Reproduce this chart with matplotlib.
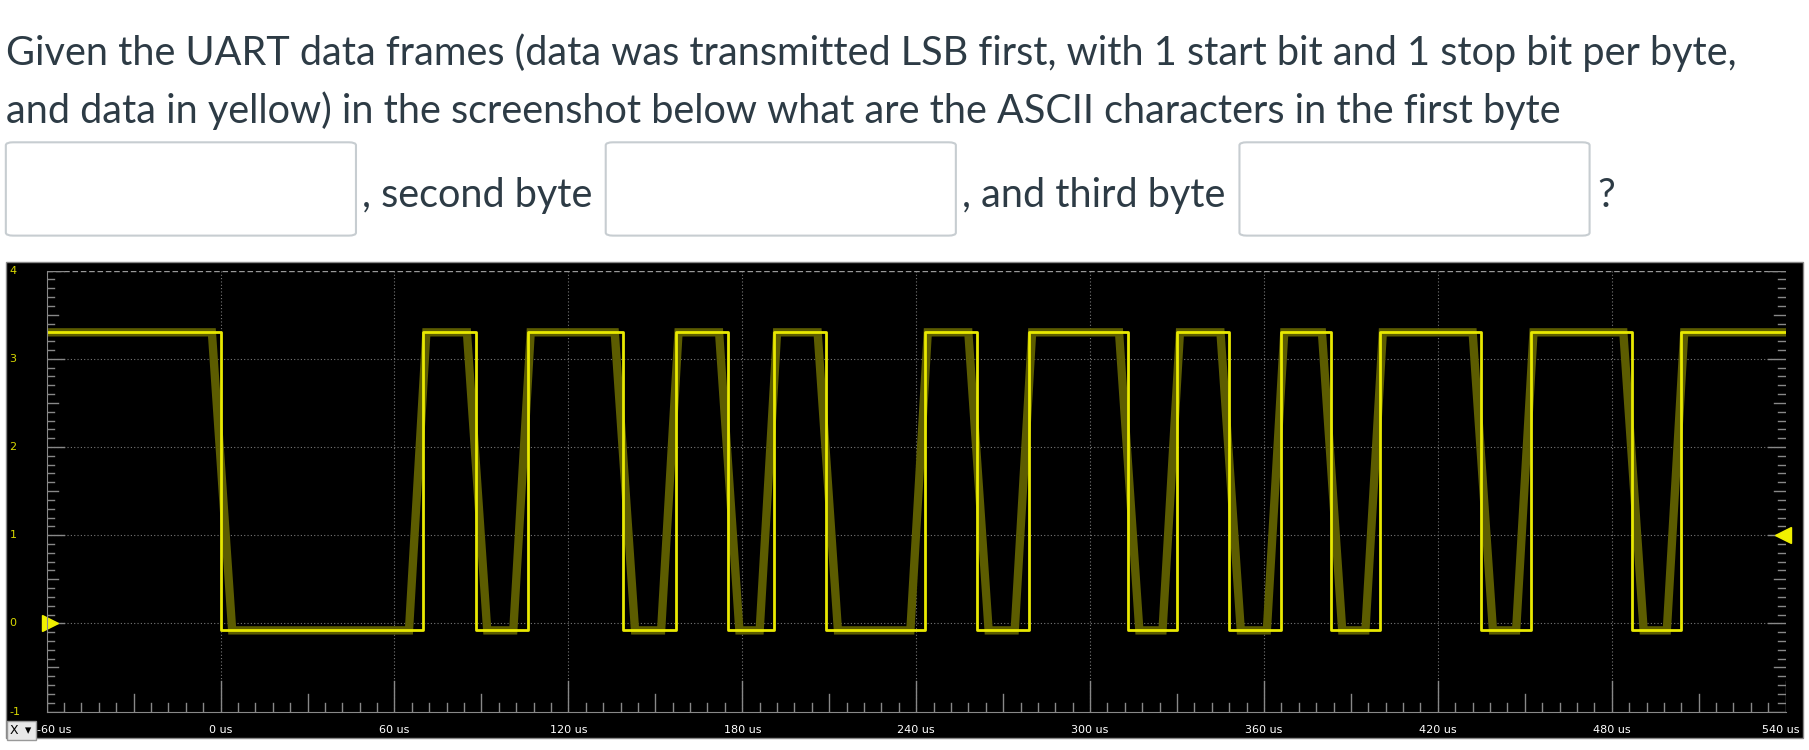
import matplotlib.pyplot as plt
from matplotlib.patches import FancyBboxPatch, Rectangle

# transition times in us (alternating: fall, rise, fall, ...), starting high
edges = [0, 70, 88, 106, 139, 157, 175, 191, 209, 243, 261, 279, 313, 330,
         348, 366, 383, 400, 435, 452, 487, 504]
high_v = 3.3
low_v = -0.08
t_start = -60
t_end = 540

W, H = 1550.0, 643.0  # layout reference units


def fx(x):
    return x / W


def fy(y):
    return 1 - y / H


fig = plt.figure(figsize=(18.09, 7.5), dpi=100)
font = 'Lato'
fs = 28.5

fig.text(fx(5), fy(45), "Given the UART data frames (data was transmitted LSB first, with 1 start bit and 1 stop bit per byte,",
         fontsize=fs, family=font, color='#2d3b45', va='center')
fig.text(fx(5), fy(95), "and data in yellow) in the screenshot below what are the ASCII characters in the first byte",
         fontsize=fs, family=font, color='#2d3b45', va='center')
for x0, x1 in [(5, 305), (519, 819), (1062, 1362)]:
    fig.patches.append(FancyBboxPatch((fx(x0), fy(202)), fx(x1 - x0), fy(122) - fy(202),
                                      boxstyle='round,pad=0,rounding_size=0.004',
                                      transform=fig.transFigure, fc='white', ec='#c7cdd1', lw=1.5))
fig.text(fx(310), fy(168), ", second byte", fontsize=fs, family=font, color='#2d3b45', va='center')
fig.text(fx(824), fy(168), ", and third byte", fontsize=fs, family=font, color='#2d3b45', va='center')
fig.text(fx(1369), fy(168), "?", fontsize=fs, family=font, color='#2d3b45', va='center')

# black scope frame
fig.patches.append(Rectangle((fx(5), fy(633)), fx(1540), fy(225) - fy(633),
                             transform=fig.transFigure, fc='black', ec='#888888', lw=1, zorder=-5))

ax = fig.add_axes([fx(40), fy(610), fx(1490), fy(232) - fy(610)])
ax.set_zorder(2)
ax.set_facecolor('black')
ax.set_xlim(t_start, t_end)
ax.set_ylim(-1, 4)
for s in ax.spines.values():
    s.set_visible(False)
ax.spines['left'].set_visible(True)
ax.spines['bottom'].set_visible(True)
ax.spines['left'].set_color('#888888')
ax.spines['bottom'].set_color('#888888')
ax.set_xticks([])
ax.set_yticks([])

# grid
for t in range(0, 540, 60):
    ax.axvline(t, color='#777777', lw=0.8, ls=(0, (1, 2)))
for v in [0, 1, 2, 3]:
    ax.axhline(v, color='#777777', lw=0.8, ls=(0, (1, 2)))
ax.axhline(4, color='#999999', lw=1, ls=(0, (4, 2)))

# axis ticks drawn inside
for i in range(0, 101):
    t = t_start + i * 6
    h = 0.35 if i % 10 == 0 else (0.2 if i % 5 == 0 else 0.1)
    ax.plot([t, t], [-1, -1 + h], color='#888888', lw=1)
for i in range(0, 51):
    v = -1 + i * 0.1
    w = 6 if i % 10 == 0 else (4 if i % 5 == 0 else 2.5)
    ax.plot([t_start, t_start + w], [v, v], color='#888888', lw=1)
    ax.plot([t_end, t_end - w], [v, v], color='#888888', lw=1)

# waveform
xs, ys = [t_start], [high_v]
gx, gy = [t_start], [high_v]
level = high_v
for t in edges:
    new = low_v if level == high_v else high_v
    xs += [t, t]
    ys += [level, new]
    if level == high_v:
        gx += [t - 3, t + 4]
    else:
        gx += [t - 5, t + 1]
    gy += [level, new]
    level = new
xs.append(t_end)
ys.append(level)
gx.append(t_end)
gy.append(level)
ax.plot(gx, gy, color='#5c5c00', lw=6, solid_joinstyle='miter')
ax.plot(xs, ys, color='#e8e800', lw=2)

# markers
ax.plot([t_start + 1], [0], marker='>', color='#f0f000', ms=11, clip_on=False)
ax.plot([t_end - 1], [1], marker='<', color='#f0f000', ms=11, clip_on=False)

# axis labels
for v in range(-1, 5):
    fig.text(fx(8), fy(610 - (v + 1) * 75.6), str(v), color='#d8d800', fontsize=8,
             va='center', ha='left', family='DejaVu Sans')
for t in range(-60, 541, 60):
    xp = 40 + (t - t_start) / 600 * 1490
    ha = 'center'
    if t == -60:
        xp = 32
        ha = 'left'
    if t == 540:
        ha = 'right'
        xp = 1542
    fig.text(fx(xp), fy(626), f"{t} us", color='white', fontsize=8, ha=ha, va='center',
             family='DejaVu Sans')
fig.patches.append(Rectangle((fx(6), fy(634)), fx(25), fy(618) - fy(634),
                             transform=fig.transFigure, fc='#e8e8e8', ec='#999999', lw=1))
fig.text(fx(12), fy(626), "X", color='black', fontsize=9, va='center', ha='center')
fig.text(fx(24), fy(626), "▾", color='black', fontsize=9, va='center', ha='center')

fig.savefig('out.png', dpi=100, facecolor='white')
